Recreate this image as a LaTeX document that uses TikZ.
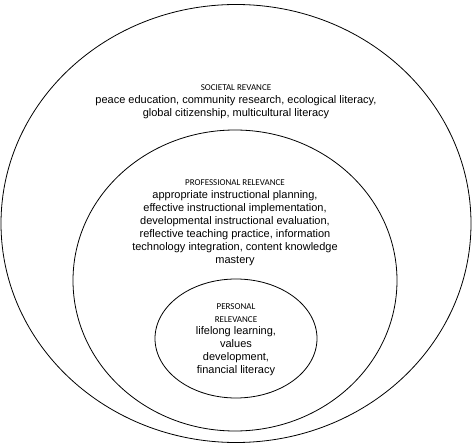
\documentclass[tikz,border=0pt]{standalone}
\usepackage{fontspec}
\setmainfont{Liberation Sans}
\newfontfamily\headfont{Carlito}
\usetikzlibrary{shapes.geometric}
\begin{document}
\begin{tikzpicture}[x=1pt,y=-1pt,
  ring/.style={draw=black,line width=0.8pt,ellipse,inner sep=0pt},
  body/.style={align=center,text=black,font={\fontsize{11}{13}\selectfont},inner sep=0pt},
  head/.style={align=center,text=black,font={\headfont\fontsize{9}{13.5}\selectfont},inner sep=0pt}]
\useasboundingbox (0,0) rectangle (474,446);
\node[ring,minimum width=470pt,minimum height=438pt] (outer) at (236,223.5) {};
\node[ring,minimum width=324pt,minimum height=301pt] (middle) at (235,280.5) {};
\node[ring,minimum width=162pt,minimum height=119pt] (inner) at (236,338.5) {};
\node[head] (sh) at (236,88) {SOCIETAL REVANCE};
\node[body,anchor=north] (sb) at (236,95) {peace education, community research, ecological literacy,\\global citizenship, multicultural literacy};
\node[head] (ph) at (235,183) {PROFESSIONAL RELEVANCE};
\node[body,anchor=north] (pb) at (235,190) {appropriate instructional planning,\\effective instructional implementation,\\developmental instructional evaluation,\\reflective teaching practice, information\\technology integration, content knowledge\\mastery};
\node[head] (rh) at (236,313) {PERSONAL\\RELEVANCE};
\node[body,anchor=north] (rb) at (236,326) {lifelong learning,\\values\\development,\\financial literacy};
\end{tikzpicture}
\end{document}
